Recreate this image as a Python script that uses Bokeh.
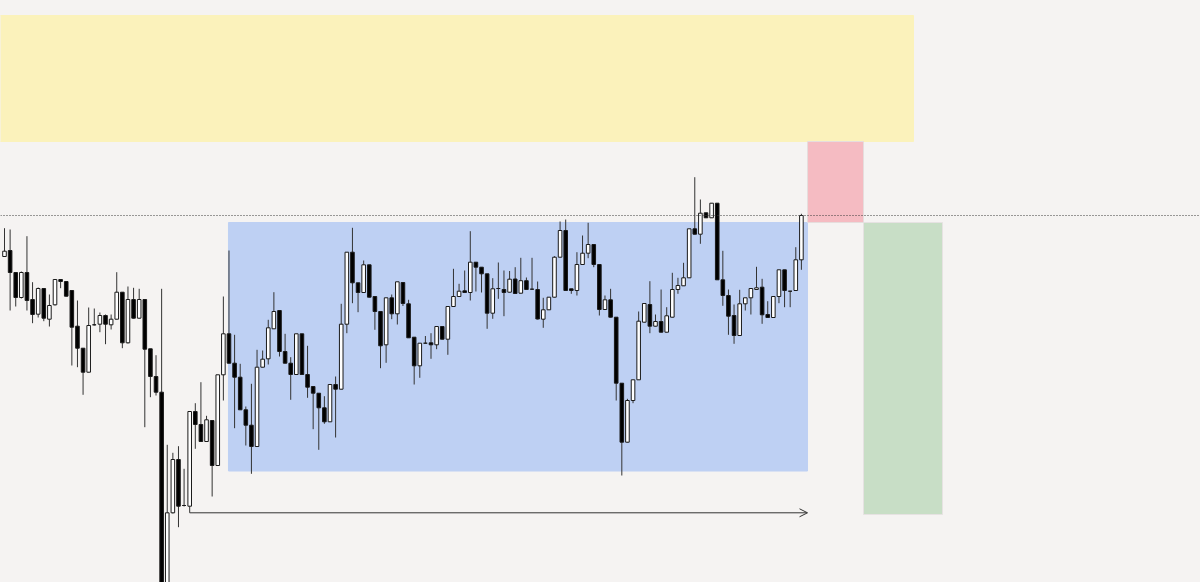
from bokeh.plotting import figure
from bokeh.models import Range1d, Span, Arrow, OpenHead, ColumnDataSource
from bokeh.embed import file_html
from bokeh.resources import INLINE

# ---- candle data (price units) ----
opens = [344.0, 350.0, 328.0, 303.0, 328.0, 301.0, 286.3, 312.0, 281.3, 295.7,
         321.0, 319.0, 310.0, 274.3, 252.3, 228.3, 275.7, 276.3, 285.0, 275.7,
         281.3, 308.3, 257.7, 301.0, 282.3, 301.0, 251.7, 224.0, 208.3, 2.0,
         87.7, 141.0, 95.0, 94.3, 189.0, 176.0, 159.0, 180.0, 135.0, 225.7,
         266.7, 237.3, 223.3, 190.7, 175.3, 154.0, 233.3, 241.7, 271.7, 290.0,
         249.0, 237.3, 226.0, 266.7, 226.0, 214.0, 207.3, 192.7, 178.7, 216.0,
         211.3, 276.3, 348.3, 317.7, 308.0, 335.7, 304.0, 289.0, 255.7, 302.7,
         286.7, 318.0, 296.7, 263.3, 234.7, 257.3, 257.7, 255.7, 274.0, 261.3,
         294.0, 304.0, 309.7, 308.0, 338.3, 333.3, 326.7, 287.3, 312.0, 311.0,
         308.3, 321.5, 307.3, 319.8, 311.3, 311.0, 281.3, 290.7, 303.3, 343.3,
         370.0, 311.7, 310.0, 336.0, 347.3, 356.0, 336.0, 291.0, 300.7, 283.3,
         217.3, 158.3, 200.0, 220.7, 278.3, 296.0, 274.3, 279.0, 268.3, 283.3,
         311.0, 314.7, 322.7, 371.7, 366.3, 387.7, 382.7, 397.3, 320.7, 305.0,
         285.0, 265.0, 296.7, 302.7, 311.0, 313.3, 286.0, 283.0, 304.0, 330.7,
         309.3, 310.0, 340.7]
highs = [372.3, 371.0, 328.0, 329.0, 364.3, 318.3, 313.0, 312.0, 306.0, 321.0,
         321.0, 319.0, 310.0, 300.0, 252.3, 293.0, 292.0, 288.0, 286.0, 286.0,
         328.3, 308.3, 314.0, 312.7, 311.7, 301.0, 251.7, 245.3, 311.7, 155.7,
         147.7, 154.3, 131.7, 189.0, 197.3, 218.3, 184.7, 180.0, 225.7, 304.0,
         350.0, 265.7, 236.7, 194.0, 216.7, 250.7, 250.0, 280.7, 308.3, 290.0,
         266.7, 243.3, 266.7, 266.7, 254.7, 214.0, 207.3, 204.3, 216.0, 224.0,
         296.7, 348.3, 372.7, 317.7, 340.0, 335.7, 304.0, 289.0, 302.7, 306.0,
         318.7, 318.0, 300.7, 263.3, 257.3, 264.5, 267.3, 274.0, 274.0, 294.0,
         331.7, 316.7, 330.0, 369.3, 338.3, 333.3, 326.7, 322.3, 338.0, 330.0,
         329.5, 333.3, 342.7, 323.0, 342.7, 319.0, 302.7, 303.3, 344.3, 379.0,
         381.0, 311.7, 348.3, 365.0, 377.7, 356.0, 336.0, 305.0, 311.7, 283.3,
         217.3, 201.7, 220.7, 289.0, 297.0, 319.3, 286.0, 311.0, 293.3, 327.7,
         322.7, 337.7, 371.7, 423.3, 401.0, 387.7, 397.3, 397.3, 349.7, 311.0,
         296.0, 310.7, 302.7, 312.0, 333.7, 321.7, 299.3, 304.0, 330.7, 330.7,
         309.5, 353.3, 386.7]
lows = [344.0, 290.0, 294.0, 302.0, 290.0, 277.3, 283.0, 279.3, 274.0, 295.0,
        312.3, 304.0, 235.0, 233.3, 205.7, 228.0, 275.0, 268.3, 256.3, 271.0,
        281.0, 252.3, 257.0, 282.0, 282.0, 173.3, 203.3, 205.0, -10.0, -5.0,
        87.0, 73.3, 94.0, 87.7, 151.7, 158.5, 158.5, 104.0, 134.5, 200.0,
        237.0, 172.3, 190.5, 155.0, 126.7, 153.5, 233.0, 236.0, 271.5, 244.0,
        237.0, 200.7, 225.7, 225.7, 202.7, 171.3, 150.7, 176.7, 178.5, 163.0,
        211.0, 267.3, 297.3, 288.3, 307.7, 303.0, 270.7, 232.3, 237.7, 281.3,
        276.0, 294.5, 262.5, 216.0, 222.7, 257.0, 241.7, 251.3, 261.0, 245.7,
        293.7, 303.7, 307.7, 300.0, 309.0, 308.0, 271.7, 281.7, 301.7, 284.3,
        308.0, 306.7, 307.0, 310.7, 310.5, 281.0, 272.7, 290.5, 303.0, 343.0,
        309.7, 306.7, 305.0, 335.7, 342.3, 333.3, 285.0, 290.7, 283.0, 200.0,
        125.0, 158.0, 197.3, 220.5, 278.0, 267.3, 274.0, 268.0, 268.0, 283.0,
        306.7, 314.5, 322.5, 366.0, 356.7, 382.5, 382.5, 320.5, 294.7, 265.7,
        256.7, 264.7, 290.0, 286.0, 310.7, 276.7, 282.7, 282.7, 297.3, 293.3,
        293.3, 309.7, 330.7]
closes = [349.3, 328.0, 303.0, 328.0, 300.0, 286.0, 312.0, 282.3, 295.0, 321.0,
          319.0, 304.3, 273.3, 252.3, 228.3, 275.0, 275.7, 285.0, 276.3, 281.3,
          308.3, 257.7, 301.0, 282.3, 301.0, 251.3, 224.0, 208.3, 0.0, 87.7,
          141.0, 94.3, 95.0, 189.0, 176.0, 159.0, 180.7, 135.0, 225.7, 266.7,
          237.3, 223.3, 190.7, 175.3, 154.0, 233.3, 241.3, 272.7, 289.0, 249.0,
          237.3, 226.0, 266.7, 226.0, 213.3, 207.3, 192.7, 178.7, 216.0, 211.3,
          276.3, 348.3, 317.7, 308.0, 335.7, 303.3, 289.0, 254.7, 302.7, 286.7,
          318.7, 297.0, 262.7, 234.7, 257.3, 257.3, 255.7, 274.0, 261.3, 294.0,
          304.0, 309.3, 308.0, 338.3, 333.3, 326.7, 287.3, 311.7, 312.0, 308.0,
          321.3, 307.0, 319.8, 311.0, 311.3, 281.5, 290.7, 303.3, 343.3, 370.0,
          310.0, 310.0, 336.0, 347.3, 356.0, 336.0, 291.0, 300.7, 283.3, 217.3,
          158.3, 200.0, 220.7, 279.3, 297.0, 274.3, 279.0, 268.3, 284.7, 311.0,
          315.0, 322.7, 371.7, 366.3, 387.3, 382.7, 397.3, 320.7, 305.0, 284.3,
          265.0, 296.7, 302.7, 312.0, 312.7, 285.7, 283.0, 304.0, 330.7, 310.0,
          309.3, 340.7, 385.0]

# ---- zones (bar index / price) ----
zone_names = ["supply", "range", "risk", "target"]
zone_left = [-5.0, 39.91, 143.09, 153.07]
zone_right = [161.97, 143.09, 153.07, 167.14]
zone_bottom = [459.0, 129.5, 378.0, 86.0]
zone_top = [585.0, 378.0, 459.0, 378.0]
zone_colors = ["#fbf2bb", "#bed0f3", "#f5bbc2", "#c8dec6"]
zone_lines = [None, None, "#e6dddd", "#e6e2e2"]

BG = "#f5f3f2"
n = len(opens)
idx = list(range(n))
tops = [max(o, c) for o, c in zip(opens, closes)]
bots = [min(o, c) for o, c in zip(opens, closes)]
fills = ["#ffffff" if c >= o else "#000000" for o, c in zip(opens, closes)]

src = ColumnDataSource(dict(x=idx, o=opens, h=highs, l=lows, c=closes,
                            top=tops, bot=bots, fill=fills))
zsrc = ColumnDataSource(dict(left=zone_left, right=zone_right, bottom=zone_bottom,
                             top=zone_top, color=zone_colors,
                             lc=[c if c else col for c, col in zip(zone_lines, zone_colors)]))

# ranges: candle spacing 5.612px, first candle at 4px from the left edge
x0 = (0 - 4) / 5.612
x1 = (1200 - 4) / 5.612
p = figure(width=1200, height=582, output_backend="svg", toolbar_location=None,
           x_range=Range1d(x0, x1), y_range=Range1d(18, 600),
           x_axis_location=None, y_axis_location=None, min_border=0,
           background_fill_color=BG, border_fill_color=BG, outline_line_color=None)
p.grid.visible = False

p.quad(left="left", right="right", bottom="bottom", top="top", fill_color="color",
       line_color="lc", line_width=1, source=zsrc)

p.segment(x0="x", y0="l", x1="x", y1="h", line_color="#333333", line_width=1, source=src)
p.vbar(x="x", width=0.64, top="top", bottom="bot", fill_color="fill",
       line_color="#1a1a1a", line_width=1, source=src)

p.add_layout(Span(location=closes[-1], dimension="width", line_color="#3a3a3a",
                  line_width=1, line_dash="1 2"))

p.add_layout(Arrow(end=OpenHead(size=8, line_width=1, line_color="#333333"),
                   x_start=33, y_start=lows[33], x_end=zone_right[1], y_end=lows[33],
                   line_color="#333333", line_width=1))

html = file_html(p, INLINE, title="chart")
html = html.replace("<head>", "<head><style>html,body{background:#f5f3f2;}</style>", 1)
open("out.html", "w").write(html)
